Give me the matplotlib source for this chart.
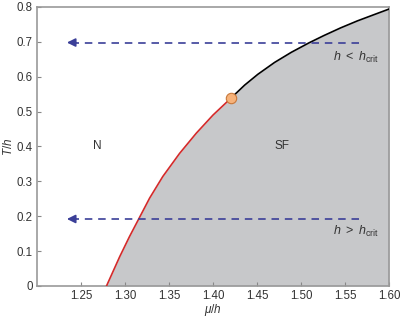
import matplotlib
matplotlib.use("Agg")
import matplotlib.pyplot as plt

# phase boundary T_c(mu)
mu = [1.279, 1.294, 1.305, 1.316, 1.328, 1.343, 1.362, 1.381, 1.400, 1.421,
      1.436, 1.451, 1.470, 1.489, 1.509, 1.526, 1.545, 1.564, 1.583, 1.600]
T = [0.000, 0.084, 0.141, 0.194, 0.252, 0.314, 0.380, 0.438, 0.490, 0.540,
     0.576, 0.607, 0.641, 0.670, 0.697, 0.718, 0.740, 0.760, 0.778, 0.794]
tcp_index = 9  # tricritical point: red below, black above

# quench paths (dashed arrows)
arrow_y = [0.698, 0.192]
arrow_start = 1.566
arrow_end = 1.234

xticks = [1.25, 1.30, 1.35, 1.40, 1.45, 1.50, 1.55, 1.60]
yticks = [0, 0.1, 0.2, 0.3, 0.4, 0.5, 0.6, 0.7, 0.8]
ytick_labels = ["0", "0.1", "0.2", "0.3", "0.4", "0.5", "0.6", "0.7", "0.8"]

plt.rcParams["font.family"] = ["Liberation Sans", "DejaVu Sans"]
plt.rcParams["mathtext.fontset"] = "custom"
plt.rcParams["mathtext.rm"] = "Liberation Sans"
plt.rcParams["mathtext.it"] = "Liberation Sans:italic"
text_color = "#333333"
navy = "#3b3f98"

fig = plt.figure(figsize=(4.0, 3.17), dpi=100)
ax = fig.add_axes([0.0925, 0.098, 0.88, 0.88])

ax.fill_between(mu, 0, T, color="#c7c8ca", lw=0, zorder=1)
ax.plot(mu[:tcp_index + 1], T[:tcp_index + 1], color="#d42a2a", lw=1.2, zorder=3)
ax.plot(mu[tcp_index:], T[tcp_index:], color="black", lw=1.2, zorder=3)
ax.plot(mu[tcp_index], T[tcp_index], "o", ms=7.5, mfc="#f6b27a", mec="#c8783a",
        mew=0.8, zorder=5)

for y in arrow_y:
    ax.plot([arrow_start, arrow_end + 0.006], [y, y], ls=(0, (4.5, 3.5)), color=navy,
            lw=1.2, zorder=4)
    ax.annotate("", xy=(arrow_end, y), xytext=(arrow_end + 0.010, y),
                arrowprops=dict(arrowstyle="-|>,head_length=0.5,head_width=0.25",
                                color=navy, lw=1.2, shrinkA=0, shrinkB=0), zorder=4)

ax.text(1.268, 0.40, "N", fontsize=8.5, color=text_color, ha="center", va="center")
ax.text(1.478, 0.40, "SF", fontsize=8.5, color=text_color, ha="center", va="center")
ax.text(1.562, 0.654, r"$h\ <\ h_{\rm crit}$", fontsize=9, color=text_color,
        ha="center", va="center")
ax.text(1.562, 0.155, r"$h\ >\ h_{\rm crit}$", fontsize=9, color=text_color,
        ha="center", va="center")

ax.set_xlim(1.2, 1.6)
ax.set_ylim(0, 0.8)
ax.set_xticks(xticks)
ax.set_xticklabels(["%.2f" % x for x in xticks])
ax.set_yticks(yticks)
ax.set_yticklabels(ytick_labels)
ax.tick_params(direction="in", length=3, color="#888888", labelsize=8.3,
               labelcolor=text_color, pad=3)
for s in ax.spines.values():
    s.set_color("#999999")
    s.set_linewidth(1.2)

ax.set_xlabel(r"$\mu/h$", fontsize=8.5, color=text_color, labelpad=0)
ax.set_ylabel(r"$T/h$", fontsize=8.5, color=text_color, labelpad=1)

fig.savefig("out.png", dpi=100)
